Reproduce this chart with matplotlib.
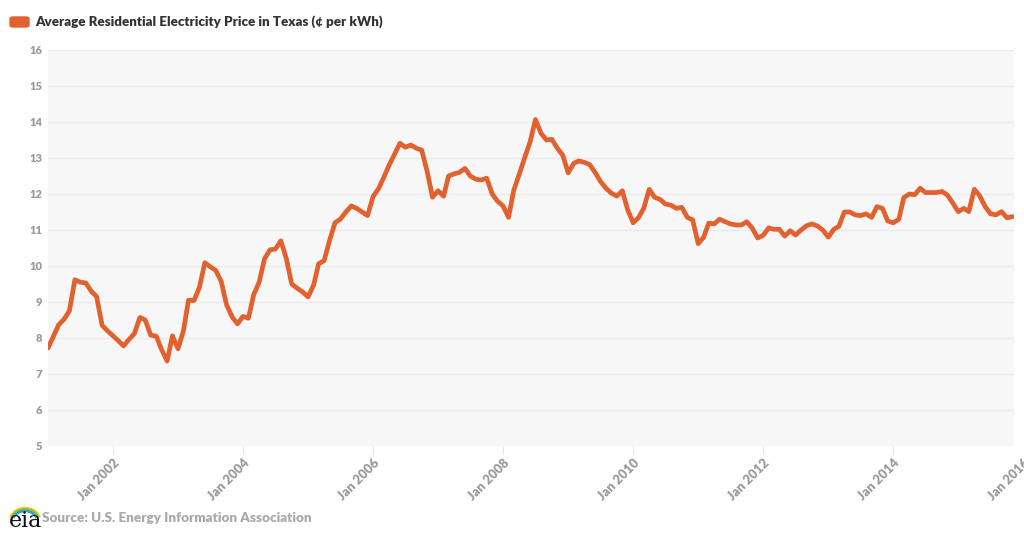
import numpy as np
import pandas as pd
import matplotlib
matplotlib.use('Agg')
import matplotlib.pyplot as plt
import matplotlib.dates as mdates
from matplotlib.patches import FancyBboxPatch, Arc

# Monthly average residential electricity price in Texas (cents per kWh), Jan 2001 - Nov 2015
# values
start_month = '2001-01-01'
price = [
    7.72, 8.05, 8.36, 8.52, 8.75, 9.62, 9.55, 9.53, 9.30, 9.15, 8.35, 8.20,   # 2001
    8.06, 7.92, 7.78, 7.96, 8.12, 8.57, 8.50, 8.08, 8.05, 7.68, 7.36, 8.06,   # 2002
    7.70, 8.20, 9.05, 9.04, 9.40, 10.09, 9.98, 9.88, 9.57, 8.92, 8.59, 8.39,  # 2003
    8.60, 8.55, 9.20, 9.55, 10.20, 10.45, 10.47, 10.70, 10.20, 9.50, 9.38, 9.28,  # 2004
    9.14, 9.47, 10.06, 10.15, 10.70, 11.20, 11.30, 11.50, 11.67, 11.60, 11.50, 11.40,  # 2005
    11.93, 12.15, 12.45, 12.80, 13.10, 13.41, 13.30, 13.36, 13.27, 13.22, 12.62, 11.91,  # 2006
    12.09, 11.94, 12.50, 12.56, 12.60, 12.71, 12.50, 12.41, 12.39, 12.44, 12.00, 11.80,  # 2007
    11.67, 11.35, 12.10, 12.55, 13.00, 13.45, 14.07, 13.69, 13.50, 13.52, 13.27, 13.08,  # 2008
    12.59, 12.85, 12.92, 12.88, 12.82, 12.60, 12.35, 12.16, 12.02, 11.94, 12.09, 11.56,  # 2009
    11.20, 11.35, 11.60, 12.13, 11.91, 11.85, 11.72, 11.69, 11.60, 11.63, 11.35, 11.28,  # 2010
    10.62, 10.80, 11.19, 11.17, 11.30, 11.23, 11.17, 11.14, 11.14, 11.23, 11.05, 10.78,  # 2011
    10.85, 11.06, 11.02, 11.02, 10.83, 10.98, 10.86, 11.00, 11.12, 11.17, 11.11, 11.00,  # 2012
    10.80, 11.02, 11.10, 11.50, 11.50, 11.42, 11.40, 11.45, 11.35, 11.65, 11.60, 11.25,  # 2013
    11.20, 11.30, 11.90, 12.00, 11.98, 12.16, 12.04, 12.04, 12.04, 12.07, 11.97, 11.75,  # 2014
    11.51, 11.60, 11.51, 12.13, 11.95, 11.65, 11.45, 11.42, 11.51, 11.34, 11.37,        # 2015
]
dates = pd.date_range(start_month, periods=len(price), freq='MS')

tick_years = [2002, 2004, 2006, 2008, 2010, 2012, 2014, 2016]
y_ticks = list(range(5, 17))

line_color = '#e2622f'
grey_text = '#9a9a9a'

plt.rcParams['font.family'] = ['Lato', 'DejaVu Sans']

fig = plt.figure(figsize=(10.24, 5.55), dpi=100)
ax = fig.add_axes([48 / 1024, 1 - 446 / 555, (1014 - 48) / 1024, (446 - 50) / 555])
ax.set_facecolor('#f7f7f7')

ax.plot(dates, price, color=line_color, lw=3.4, solid_joinstyle='round',
        solid_capstyle='round', zorder=3)

# axes limits
ax.set_ylim(5, 16)
ax.set_xlim(pd.Timestamp('2001-01-01'), pd.Timestamp('2015-11-10'))

ax.set_yticks(y_ticks)
ax.set_yticklabels([str(v) for v in y_ticks], color=grey_text, fontsize=8, fontweight='heavy')
ax.tick_params(axis='y', length=0, pad=4)

xt = [pd.Timestamp(f'{y}-01-01') for y in tick_years[:-1]]
ax.set_xticks(xt)
ax.set_xticklabels([f'Jan {y}' for y in tick_years[:-1]], rotation=45, ha='right',
                   rotation_mode='anchor', color=grey_text, fontsize=9.3, fontweight='heavy')
ax.tick_params(axis='x', length=6, color='#e6e6e6', pad=2)

# the last label sits past the right edge and gets cut by the figure, like the original
last = tick_years[-1]
ax.text(mdates.date2num(pd.Timestamp(f'{last}-01-01')), 5 - 0.3, f'Jan {last}',
        rotation=45, ha='right', va='top', rotation_mode='anchor', color=grey_text,
        fontsize=9.3, fontweight='heavy', clip_on=False)

ax.grid(axis='y', color='#ebebeb', lw=1)
ax.set_axisbelow(True)
for s in ax.spines.values():
    s.set_visible(False)

# legend / title
fig.patches.append(FancyBboxPatch((10 / 1024, 1 - 27 / 555), 19 / 1024, 10 / 555,
                                  boxstyle='round,pad=0,rounding_size=0.003',
                                  transform=fig.transFigure, color=line_color))
fig.text(35 / 1024, 1 - 22 / 555, 'Average Residential Electricity Price in Texas (¢ per kWh)',
         ha='left', va='center', fontsize=9.6, fontweight='heavy', color='#333333')

# source line with eia mark
fig.text(9 / 1024, 1 - 521 / 555, 'eia', ha='left', va='center', fontsize=16,
         family='DejaVu Serif', color='#111111')
for c, d in [('#f4c20d', 0), ('#7cc242', 3), ('#2a9fd8', 6)]:
    fig.patches.append(Arc((25 / 1024, 1 - 521 / 555), (30 - d) / 1024, (26 - d) / 555,
                           theta1=25, theta2=155, transform=fig.transFigure, color=c, lw=1.8))
fig.text(42 / 1024, 1 - 518 / 555, 'Source: U.S. Energy Information Association',
         ha='left', va='center', fontsize=9.7, fontweight='heavy', color='#aaaaaa')

fig.savefig('out.png', dpi=100)
